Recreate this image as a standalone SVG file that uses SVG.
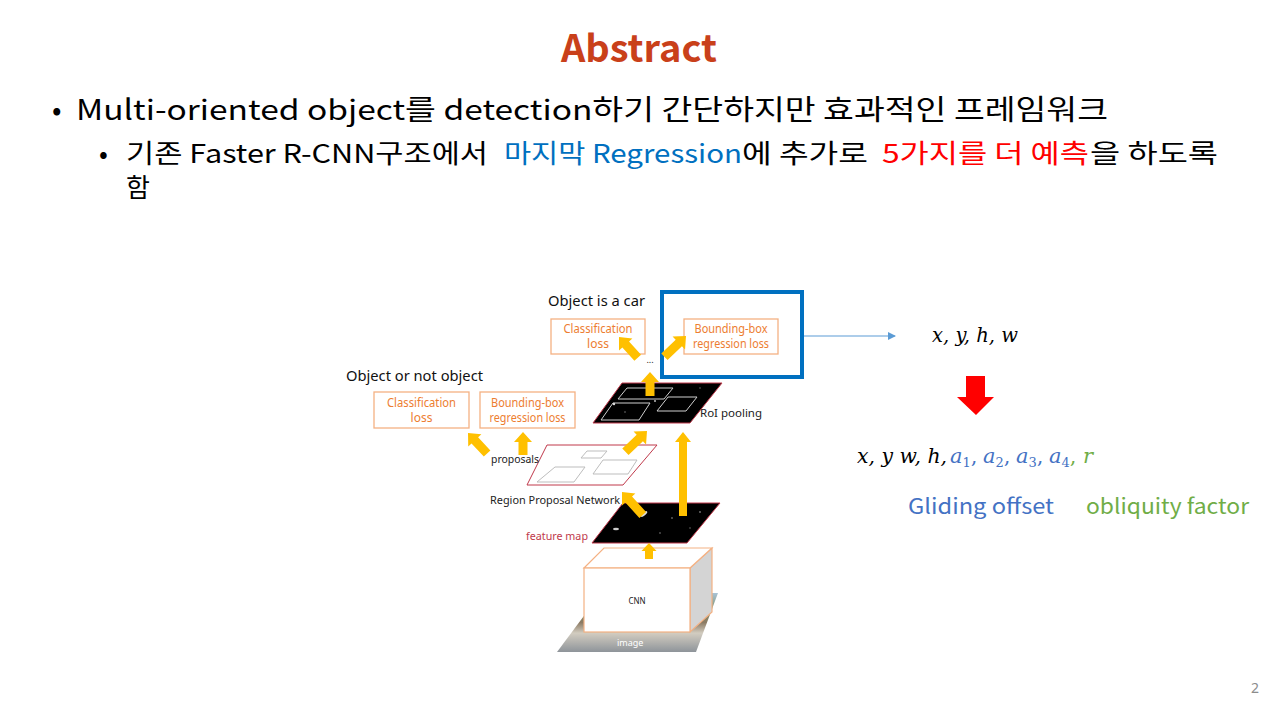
<svg xmlns="http://www.w3.org/2000/svg" width="1280" height="720" viewBox="0 0 1280 720">
<defs>
<style>
.ko{font-family:"Noto Sans CJK KR","Noto Sans",sans-serif}
.ttl{font-family:"Noto Sans CJK KR","Noto Sans",sans-serif;font-weight:700;font-size:38px;fill:#C9401A}
.lb{font-family:"Noto Sans","Open Sans",sans-serif;font-size:12px;fill:#ED7D31}
.box{fill:#fff;stroke:#F4B183;stroke-width:1.3}
.sm{font-family:"Noto Sans","Open Sans",sans-serif;fill:#222}
.ya{fill:#FFC000}
.mi{font-family:"DejaVu Serif","Liberation Serif",serif;font-style:italic;font-size:21px}
.mu{font-family:"DejaVu Serif","Liberation Serif",serif;font-size:13px;font-style:normal}
.plane{stroke:#C0394B;stroke-width:1}
.wbox{fill:none;stroke:#CFCFCF;stroke-width:1}
.gbox{fill:none;stroke:#BDBDBD;stroke-width:1}
</style>
<marker id="ba" markerWidth="8" markerHeight="8" refX="7" refY="4" orient="auto" markerUnits="userSpaceOnUse">
<path d="M0,0 L8,4 L0,8 Z" fill="#5B9BD5"/>
</marker>
<linearGradient id="img" x1="0" y1="0" x2="0" y2="1">
<stop offset="0" stop-color="#A9C3D6"/>
<stop offset="0.3" stop-color="#7E8F6A"/>
<stop offset="0.5" stop-color="#8C7B64"/>
<stop offset="0.68" stop-color="#D2CCC0"/>
<stop offset="1" stop-color="#8E949A"/>
</linearGradient>
</defs>
<rect width="1280" height="720" fill="#fff"/>

<g id="title">
<text class="ttl" x="561" y="62" textLength="156" lengthAdjust="spacingAndGlyphs">Abstract</text>
</g>

<g id="bullets" class="ko">
<text x="52" y="120" font-size="28" fill="#000">•</text>
<text x="76" y="120" font-size="28" fill="#000" textLength="1032" lengthAdjust="spacingAndGlyphs">Multi-oriented object를 detection하기 간단하지만 효과적인 프레임워크</text>
<text x="99" y="163" font-size="26" fill="#000">•</text>
<text x="126" y="163" font-size="26" fill="#000" textLength="362" lengthAdjust="spacingAndGlyphs">기존 Faster R-CNN구조에서</text>
<text x="504" y="163" font-size="26" fill="#0070C0" textLength="238" lengthAdjust="spacingAndGlyphs">마지막 Regression</text>
<text x="742" y="163" font-size="26" fill="#000" textLength="126" lengthAdjust="spacingAndGlyphs">에 추가로</text>
<text x="882" y="163" font-size="26" fill="#FF0000" textLength="207" lengthAdjust="spacingAndGlyphs">5가지를 더 예측</text>
<text x="1090" y="163" font-size="26" fill="#000" textLength="128" lengthAdjust="spacingAndGlyphs">을 하도록</text>
<text x="126" y="197" font-size="26" fill="#000">함</text>
</g>

<g id="image-plane">
<polygon points="601,593 718,593 696,652 557,652" fill="url(#img)"/>
<text x="617" y="646" class="sm" font-size="9" style="fill:#fff">image</text>
</g>

<g id="cnn">
<polygon points="690,568 712,548 712,612 690,632" fill="#D4D4D4" stroke="#F4B183" stroke-width="1.2"/>
<polygon points="584,568 604,548 712,548 690,568" fill="#fff" stroke="#F4B183" stroke-width="1.2"/>
<rect x="584" y="568" width="106" height="64" fill="#fff" stroke="#F4B183" stroke-width="1.2"/>
<text x="637" y="604" class="sm" font-size="8" text-anchor="middle">CNN</text>
</g>

<g id="feature-map">
<polygon class="plane" points="623,503 720,503 687,543 592,543" fill="#000"/>
<ellipse cx="644" cy="514" rx="4" ry="1.5" fill="#ddd" transform="rotate(-40 644 514)"/>
<ellipse cx="616" cy="529" rx="3" ry="1.2" fill="#ccc"/>
<circle cx="672" cy="518" r="0.9" fill="#666"/>
<circle cx="700" cy="512" r="0.9" fill="#777"/>
<circle cx="660" cy="533" r="0.9" fill="#555"/>
<circle cx="690" cy="528" r="0.8" fill="#666"/>
<text x="526" y="540" class="sm" font-size="11" style="fill:#C0394B" textLength="62" lengthAdjust="spacingAndGlyphs">feature map</text>
<text x="490" y="504" class="sm" font-size="11" textLength="130" lengthAdjust="spacingAndGlyphs">Region Proposal Network</text>
</g>

<g id="proposals">
<polygon class="plane" points="547,445 657,445 623,485 527,485" fill="#fff"/>
<polygon class="gbox" points="587,451 607,451 601,458 581,458"/>
<polygon class="gbox" points="555,467 585,467 574,482 537,482"/>
<polygon class="gbox" points="603,460 637,460 628,474 593,474"/>
<text x="491" y="463" class="sm" font-size="11" textLength="48" lengthAdjust="spacingAndGlyphs">proposals</text>
</g>

<g id="roi-pooling">
<polygon class="plane" points="622,383 722,383 690,423 593,423" fill="#000"/>
<polygon class="wbox" points="627,388 673,388 664,399 618,399"/>
<polygon class="wbox" points="613,403 650,403 639,420 601,420"/>
<polygon class="wbox" points="668,397 697,397 686,411 657,411"/>
<circle cx="614" cy="404" r="1.2" fill="#ddd"/>
<circle cx="655" cy="401" r="1" fill="#bbb"/>
<circle cx="700" cy="388" r="0.8" fill="#666"/>
<circle cx="625" cy="412" r="0.8" fill="#777"/>
<text x="700" y="417" class="sm" font-size="11" textLength="62" lengthAdjust="spacingAndGlyphs">RoI pooling</text>
</g>

<g id="rpn-losses">
<text x="346" y="381" class="sm" font-size="14" style="fill:#111" textLength="137" lengthAdjust="spacingAndGlyphs">Object or not object</text>
<rect class="box" x="374" y="392" width="95" height="36"/>
<text class="lb" x="421.5" y="407" text-anchor="middle" textLength="69" lengthAdjust="spacingAndGlyphs">Classification</text>
<text class="lb" x="421.5" y="422" text-anchor="middle">loss</text>
<rect class="box" x="480" y="392" width="95" height="36"/>
<text class="lb" x="527.5" y="407" text-anchor="middle" textLength="73" lengthAdjust="spacingAndGlyphs">Bounding-box</text>
<text class="lb" x="527.5" y="422" text-anchor="middle" textLength="76" lengthAdjust="spacingAndGlyphs">regression loss</text>
</g>

<g id="head-losses">
<text x="548" y="306" class="sm" font-size="14" style="fill:#111" textLength="97" lengthAdjust="spacingAndGlyphs">Object is a car</text>
<rect class="box" x="551" y="319" width="94" height="35"/>
<text class="lb" x="598" y="333" text-anchor="middle" textLength="69" lengthAdjust="spacingAndGlyphs">Classification</text>
<text class="lb" x="598" y="348" text-anchor="middle">loss</text>
<rect class="box" x="684" y="319" width="94" height="35"/>
<text class="lb" x="731" y="333" text-anchor="middle" textLength="73" lengthAdjust="spacingAndGlyphs">Bounding-box</text>
<text class="lb" x="731" y="348" text-anchor="middle" textLength="76" lengthAdjust="spacingAndGlyphs">regression loss</text>
<text x="650" y="363" class="sm" font-size="9" text-anchor="middle">...</text>
</g>

<g id="highlight">
<rect x="662" y="292" width="140" height="85" fill="none" stroke="#0070C0" stroke-width="4"/>
</g>

<g id="coords">
<text class="mi" x="932" y="342" textLength="86" lengthAdjust="spacingAndGlyphs">x, y, h, w</text>
</g>

<g id="params">
<text class="mi" x="857" y="463" fill="#000" textLength="90" lengthAdjust="spacingAndGlyphs">x, y w, h,</text>
<text class="mi" x="950" y="463" fill="#4472C4">a<tspan class="mu" dy="4">1</tspan><tspan dy="-4" style="font-style:normal">,</tspan></text>
<text class="mi" x="983" y="463" fill="#4472C4">a<tspan class="mu" dy="4">2</tspan><tspan dy="-4" style="font-style:normal">,</tspan></text>
<text class="mi" x="1016" y="463" fill="#4472C4">a<tspan class="mu" dy="4">3</tspan><tspan dy="-4" style="font-style:normal">,</tspan></text>
<text class="mi" x="1049" y="463" fill="#4472C4">a<tspan class="mu" dy="4">4</tspan><tspan dy="-4" style="font-style:normal;fill:#70AD47">,</tspan></text>
<text class="mi" x="1083" y="463" fill="#70AD47">r</text>
</g>

<g id="legend" class="ko">
<text x="908" y="514" font-size="21" fill="#4472C4" textLength="146" lengthAdjust="spacingAndGlyphs">Gliding offset</text>
<text x="1086" y="514" font-size="21" fill="#70AD47" textLength="163" lengthAdjust="spacingAndGlyphs">obliquity factor</text>
</g>

<g id="connectors">
<path class="ya" transform="translate(650,372)" d="M0,0 L9,10 L4.5,10 L4.5,24 L-4.5,24 L-4.5,10 L-9,10 Z"/>
<path class="ya" transform="translate(619,337) rotate(-42)" d="M0,0 L9,10 L4.5,10 L4.5,28 L-4.5,28 L-4.5,10 L-9,10 Z"/>
<path class="ya" transform="translate(686,336) rotate(46)" d="M0,0 L9,10 L4.5,10 L4.5,30 L-4.5,30 L-4.5,10 L-9,10 Z"/>
<path class="ya" transform="translate(468,433) rotate(-43)" d="M0,0 L9,10 L4.5,10 L4.5,28 L-4.5,28 L-4.5,10 L-9,10 Z"/>
<path class="ya" transform="translate(523,432)" d="M0,0 L9,10 L4.5,10 L4.5,23 L-4.5,23 L-4.5,10 L-9,10 Z"/>
<path class="ya" transform="translate(647,431) rotate(46)" d="M0,0 L9,10 L4.5,10 L4.5,30 L-4.5,30 L-4.5,10 L-9,10 Z"/>
<path class="ya" transform="translate(622,492) rotate(-42)" d="M0,0 L9,10 L4.5,10 L4.5,31 L-4.5,31 L-4.5,10 L-9,10 Z"/>
<path class="ya" transform="translate(683,432)" d="M0,0 L8,10 L4,10 L4,84 L-4,84 L-4,10 L-8,10 Z"/>
<path class="ya" transform="translate(649,543)" d="M0,0 L7.5,8 L4,8 L4,16 L-4,16 L-4,8 L-7.5,8 Z"/>
<line x1="804" y1="336" x2="895" y2="336" stroke="#5B9BD5" stroke-width="1" marker-end="url(#ba)"/>
<polygon points="966,376 985,376 985,397 994,397 976,415 957,397 966,397" fill="#FF0000"/>
</g>

<g id="page-number">
<text x="1251" y="693" font-family="Noto Sans, sans-serif" font-size="14" fill="#8C8C8C">2</text>
</g>
</svg>
